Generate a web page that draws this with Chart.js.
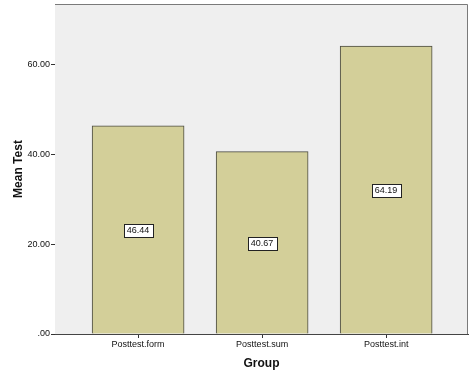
<!DOCTYPE html>
<html>
  <head>
    <title>Mean Test by Group</title>
    <script src="https://cdn.jsdelivr.net/npm/chart.js@4.4.0/dist/chart.umd.min.js"></script>
    <style>
      body { margin: 0; background: #fff; }
    </style>
  </head>
  <body>
    <canvas id="myChart" width="474" height="379"></canvas>
    <script>
      // data
      var groups = ["Posttest.form", "Posttest.sum", "Posttest.int"];
      var meanTest = [46.44, 40.67, 64.19];
      var yTicks = [0, 20, 40, 60];
      var yTickLabels = [".00", "20.00", "40.00", "60.00"];

      var ctx = document.getElementById("myChart").getContext("2d");

      // grey plot background plus the top/right frame lines
      var frame = {
        id: "frame",
        beforeDatasetsDraw: function (chart) {
          var a = chart.chartArea, c = chart.ctx;
          c.save();
          c.fillStyle = "#efefef";
          c.fillRect(a.left, a.top, a.right - a.left, a.bottom - a.top);
          c.restore();
        },
        afterDraw: function (chart) {
          var a = chart.chartArea, c = chart.ctx;
          c.save();
          c.strokeStyle = "#7a7a7a";
          c.lineWidth = 1;
          c.beginPath();
          c.moveTo(a.left, a.top + 0.5);
          c.lineTo(a.right - 0.5, a.top + 0.5);
          c.lineTo(a.right - 0.5, a.bottom);
          c.stroke();
          c.restore();
        },
      };

      // value boxes in the middle of each bar
      var valueBoxes = {
        id: "valueBoxes",
        afterDatasetsDraw: function (chart) {
          var c = chart.ctx, meta = chart.getDatasetMeta(0);
          c.save();
          c.font = "9px 'Liberation Sans', Arial, sans-serif";
          c.textAlign = "center";
          c.textBaseline = "middle";
          meta.data.forEach(function (bar, i) {
            var txt = meanTest[i].toFixed(2);
            var y = Math.round((bar.y + bar.base) / 2);
            var x = Math.round(bar.x);
            var w = Math.round(c.measureText(txt).width + 6);
            var h = 13;
            var bx = Math.round(x - w / 2), by = Math.round(y - h / 2);
            c.fillStyle = "#ffffff";
            c.fillRect(bx, by, w, h);
            c.strokeStyle = "#222";
            c.lineWidth = 1;
            c.strokeRect(bx + 0.5, by + 0.5, w, h);
            c.fillStyle = "#111";
            c.fillText(txt, x, y + 1);
          });
          c.restore();
        },
      };

      var chart = new Chart(ctx, {
        type: "bar",
        data: {
          datasets: [
            {
              label: "Mean Test",
              data: groups.map(function (g, i) {
                return { x: i, y: meanTest[i] };
              }),
              backgroundColor: "#d3cf99",
              borderColor: "#4a4a40",
              borderWidth: 1,
              barThickness: 92,
            },
          ],
        },
        options: {
          responsive: false,
          animation: false,
          layout: { padding: { top: 4, right: 6, left: 0, bottom: 0 } },
          plugins: { legend: { display: false }, tooltip: { enabled: false } },
          scales: {
            x: {
              type: "linear",
              min: -0.67,
              max: 2.66,
              offset: false,
              afterBuildTicks: function (scale) {
                scale.ticks = groups.map(function (g, i) {
                  return { value: i };
                });
              },
              afterFit: function (scale) {
                scale.height = 45;
              },
              ticks: {
                color: "#111",
                font: { family: "'Liberation Sans', Arial", size: 9 },
                padding: 1,
                maxRotation: 0,
                autoSkip: false,
                callback: function (v) {
                  return groups[v];
                },
              },
              grid: {
                display: true,
                offset: false,
                drawOnChartArea: false,
                drawTicks: true,
                tickLength: 4,
                color: "#333",
              },
              border: { display: true, color: "#444", width: 1 },
              title: {
                display: true,
                text: "Group",
                color: "#111",
                font: { family: "'Liberation Sans', Arial", size: 12, weight: "bold" },
                padding: { top: 4, bottom: 8 },
              },
            },
            y: {
              min: 0,
              max: 73.6,
              afterBuildTicks: function (scale) {
                scale.ticks = yTicks.map(function (v) {
                  return { value: v };
                });
              },
              afterFit: function (scale) {
                scale.width = 55;
                scale.paddingTop = 0;
              },
              ticks: {
                color: "#111",
                font: { family: "'Liberation Sans', Arial", size: 9 },
                padding: 1,
                callback: function (v) {
                  return yTickLabels[yTicks.indexOf(v)];
                },
              },
              grid: {
                display: true,
                drawOnChartArea: false,
                drawTicks: true,
                tickLength: 4,
                color: "#333",
              },
              border: { display: true, color: "#444", width: 1 },
              title: {
                display: true,
                text: "Mean Test",
                color: "#111",
                font: { family: "'Liberation Sans', Arial", size: 12, weight: "bold" },
                padding: { top: 11, bottom: 0 },
              },
            },
          },
        },
        plugins: [frame, valueBoxes],
      });
    </script>
  </body>
</html>
